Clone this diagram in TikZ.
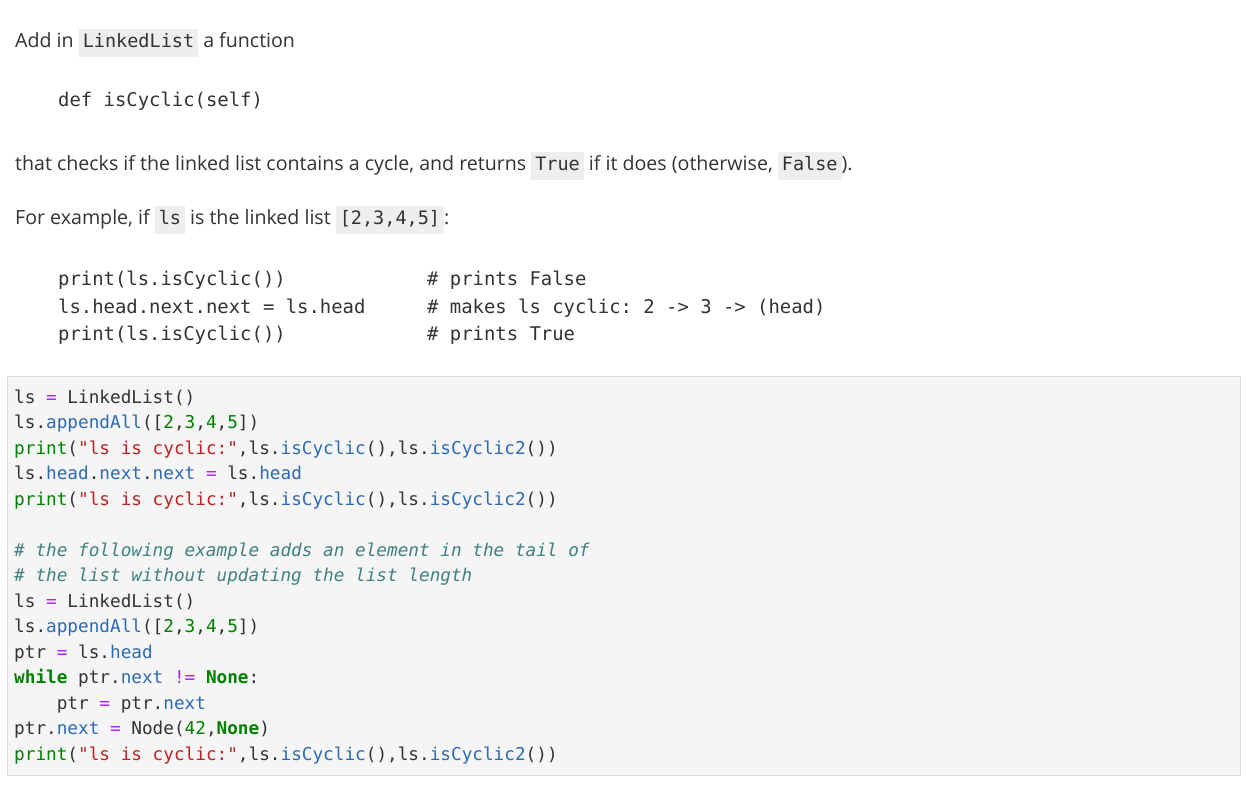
\documentclass[tikz,border=0pt]{standalone}
\usepackage{fontspec}
\setmainfont{Open Sans}
\setmonofont{DejaVu Sans Mono}
\definecolor{inl}{HTML}{EEEEEE}
\definecolor{cellbg}{HTML}{F5F5F5}
\definecolor{cellbd}{HTML}{DDDDDD}
\definecolor{txt}{HTML}{333333}
\definecolor{kw}{HTML}{008000}
\definecolor{st}{HTML}{BA2121}
\definecolor{at}{HTML}{2D6AB0}
\definecolor{op}{HTML}{AA22FF}
\definecolor{cm}{HTML}{408080}
\newcommand{\ic}[1]{{\setlength{\fboxsep}{4pt}\colorbox{inl}{\fontsize{18.5}{20}\ttfamily\strut #1}}}
\newcommand{\K}[1]{\textcolor{kw}{#1}}
\newcommand{\Sx}[1]{\textcolor{st}{#1}}
\newcommand{\A}[1]{\textcolor{at}{#1}}
\newcommand{\Op}[1]{\textcolor{op}{#1}}
\newcommand{\Cm}[1]{\textcolor{cm}{\itshape #1}}
\begin{document}
\begin{tikzpicture}[x=1pt,y=-1pt,
  prose/.style={anchor=base west,inner sep=0pt,text=txt,font=\fontsize{19.6}{22}\selectfont},
  code/.style={anchor=base west,inner sep=0pt,text=txt,font=\fontsize{18.9}{20}\ttfamily},
  cell/.style={anchor=base west,inner sep=0pt,text=txt,font=\fontsize{17.7}{20}\ttfamily}]
\useasboundingbox[fill=white] (0,0) rectangle (1247,803);
\node[prose] (p1) at (15,47) {Add in \ic{LinkedList} a function};
\node[code] (c0) at (58,106) {def isCyclic(self)};
\node[prose] (p2) at (15,170) {that checks if the linked list contains a cycle, and returns \ic{True} if it does (otherwise, \ic{False}).};
\node[prose] (p3) at (15,224) {For example, if \ic{ls} is the linked list \ic{[2,3,4,5]}:};
\node[code] (c1) at (58,285) {print(ls.isCyclic())};
\node[code] (c2) at (58,313) {ls.head.next.next = ls.head};
\node[code] (c3) at (58,340) {print(ls.isCyclic())};
\node[code] (d1) at (427,285) {\# prints False};
\node[code] (d2) at (427,313) {\# makes ls cyclic: 2 -> 3 -> (head)};
\node[code] (d3) at (427,340) {\# prints True};
\draw[cellbd,fill=cellbg] (7.5,376.5) rectangle (1240.5,775.5);
\node[cell] (l1) at (14,403) {ls \Op{=} LinkedList()};
\node[cell] (l2) at (14,428.5) {ls.\A{appendAll}([\K{2},\K{3},\K{4},\K{5}])};
\node[cell] (l3) at (14,454) {\K{print}(\Sx{"ls is cyclic:"},ls.\A{isCyclic}(),ls.\A{isCyclic2}())};
\node[cell] (l4) at (14,479.5) {ls.\A{head}.\A{next}.\A{next} \Op{=} ls.\A{head}};
\node[cell] (l5) at (14,505) {\K{print}(\Sx{"ls is cyclic:"},ls.\A{isCyclic}(),ls.\A{isCyclic2}())};
\node[cell] (l6) at (14,556) {\Cm{\# the following example adds an element in the tail of}};
\node[cell] (l7) at (14,581.5) {\Cm{\# the list without updating the list length}};
\node[cell] (l8) at (14,607) {ls \Op{=} LinkedList()};
\node[cell] (l9) at (14,632.5) {ls.\A{appendAll}([\K{2},\K{3},\K{4},\K{5}])};
\node[cell] (l10) at (14,658) {ptr \Op{=} ls.\A{head}};
\node[cell] (l11) at (14,683.5) {\K{\bfseries while} ptr.\A{next} \Op{!=} \K{\bfseries None}:};
\node[cell] (l12) at (14,709) {\ \ \ \ ptr \Op{=} ptr.\A{next}};
\node[cell] (l13) at (14,734.5) {ptr.\A{next} \Op{=} Node(\K{42},\K{\bfseries None})};
\node[cell] (l14) at (14,760) {\K{print}(\Sx{"ls is cyclic:"},ls.\A{isCyclic}(),ls.\A{isCyclic2}())};
\end{tikzpicture}
\end{document}
